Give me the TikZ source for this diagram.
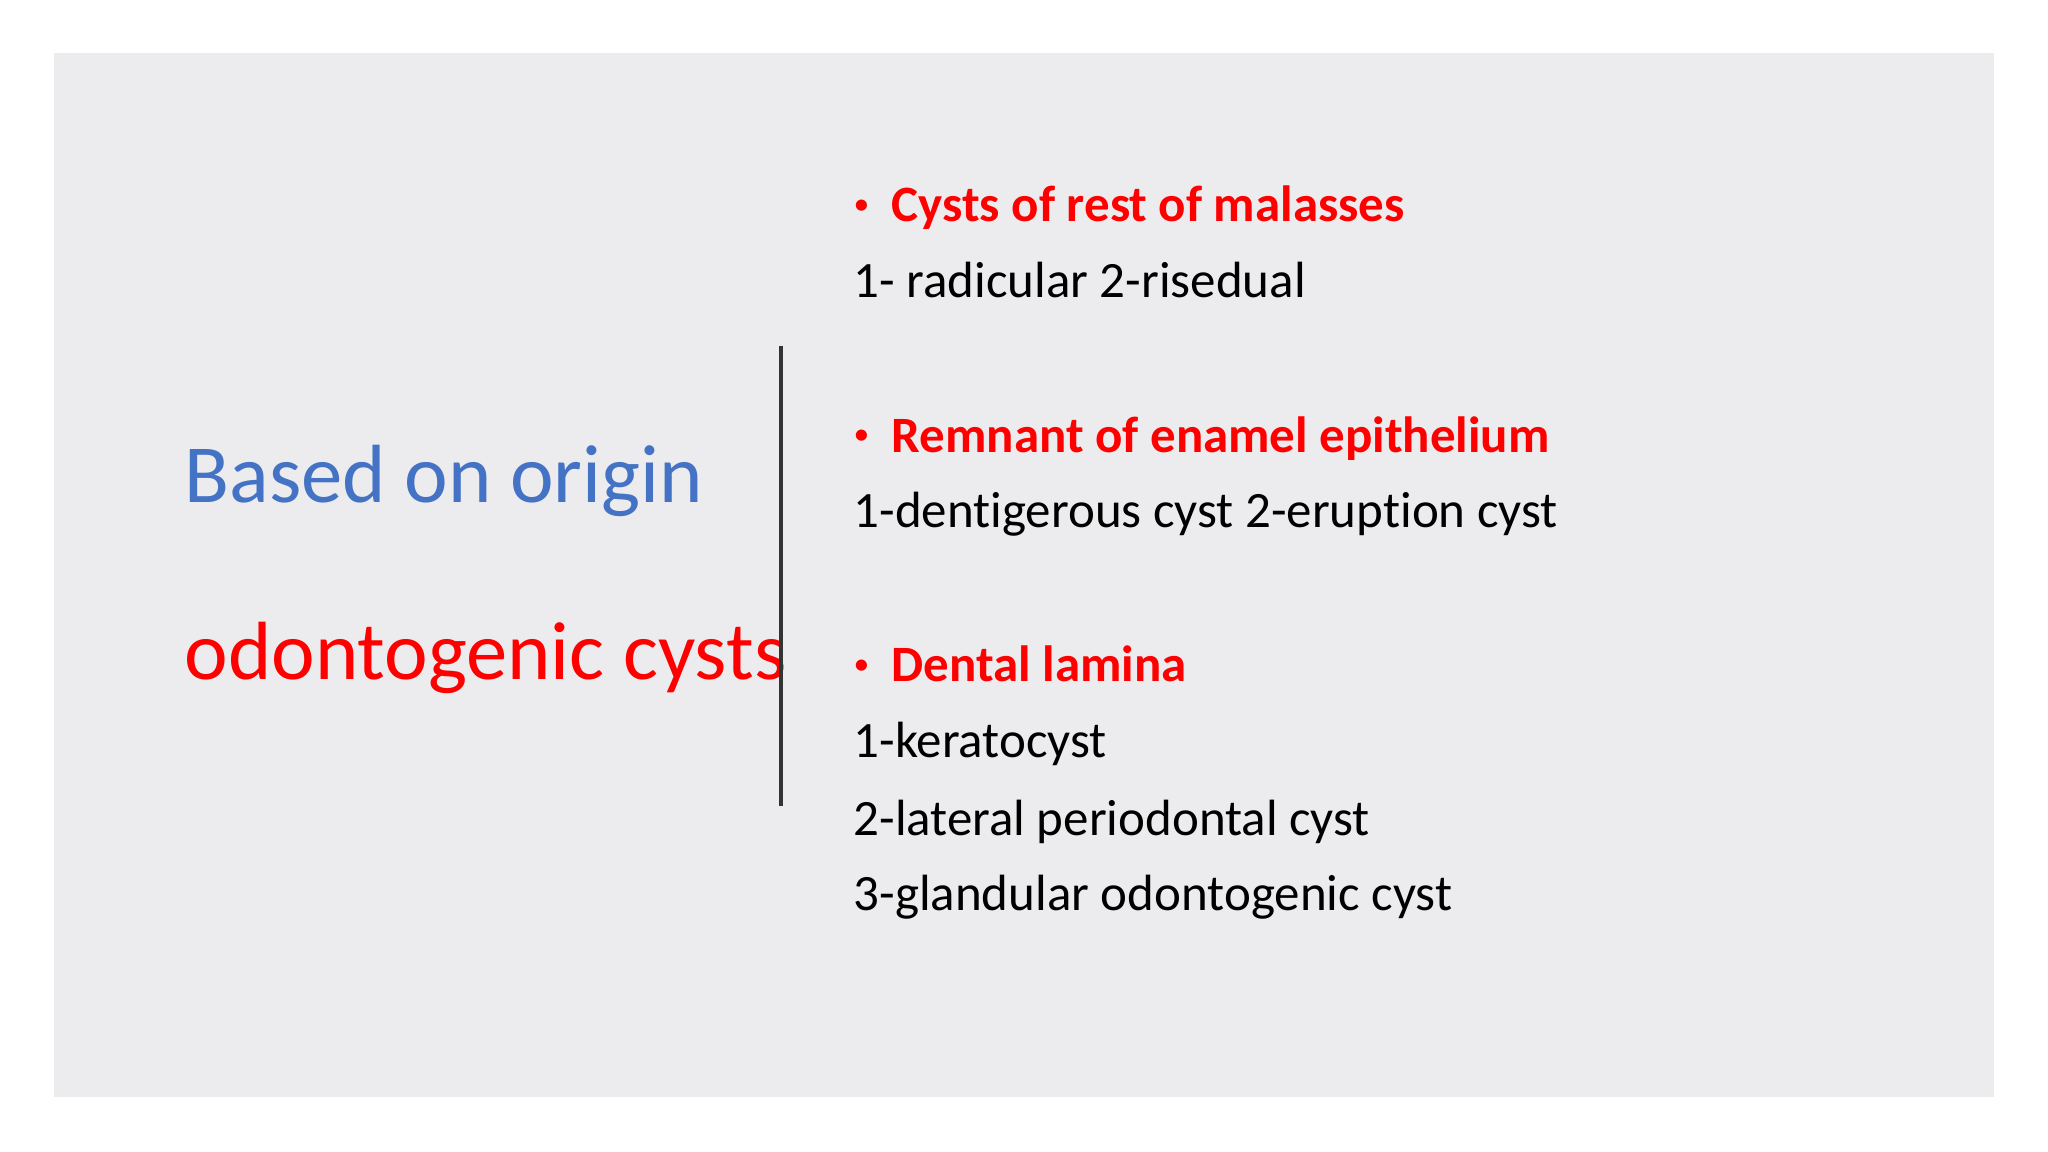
\documentclass[tikz,border=0pt]{standalone}
\usepackage{fontspec}
\setmainfont[Ligatures={NoCommon}]{Carlito}
\usetikzlibrary{positioning}
\definecolor{myblue}{RGB}{68,114,196}
\definecolor{myred}{RGB}{255,0,0}
\definecolor{mygray}{RGB}{236,236,238}
\tikzset{
    txt/.style={anchor=base west, inner sep=0pt},
    head/.style={txt, color=myred, font=\fontsize{14.5}{18}\selectfont\bfseries},
    dot/.style={txt, color=myred, font=\fontsize{9}{10}\selectfont},
    item/.style={txt, font=\fontsize{14.5}{18}\selectfont},
    big/.style={txt, font=\fontsize{23.5}{28}\selectfont},
}
\begin{document}
\begin{tikzpicture}
    \useasboundingbox (0, 0) rectangle (20.48, -11.52);
    \fill[mygray] (0.535, -0.535) rectangle (19.94, -10.97);
    % Left title
    \node[big, color=myblue] (title) at (1.84, -5.03) {Based on origin};
    \node[big, color=myred] (sub) at (1.84, -6.79) {odontogenic cysts};
    % Divider
    \coordinate (top) at (7.81, -3.46);
    \coordinate (bot) at (7.81, -8.06);
    \draw[line width=1.2pt, black!80] (top) -- (bot);
    % Right list
    \node[dot] (b1) at (8.53, -2.15) {•};
    \node[head] (h1) at (8.91, -2.22) {Cysts of rest of malasses};
    \node[item] (i1) at (8.53, -2.98) {1- radicular 2-risedual};
    \node[dot] (b2) at (8.53, -4.45) {•};
    \node[head] (h2) at (8.91, -4.52) {Remnant of enamel epithelium};
    \node[item] (i2) at (8.53, -5.28) {1-dentigerous cyst 2-eruption cyst};
    \node[dot] (b3) at (8.53, -6.75) {•};
    \node[head] (h3) at (8.91, -6.82) {Dental lamina};
    \node[item] (i3) at (8.53, -7.57) {1-keratocyst};
    \node[item] (i4) at (8.53, -8.35) {2-lateral periodontal cyst};
    \node[item] (i5) at (8.53, -9.10) {3-glandular odontogenic cyst};
\end{tikzpicture}
\end{document}
